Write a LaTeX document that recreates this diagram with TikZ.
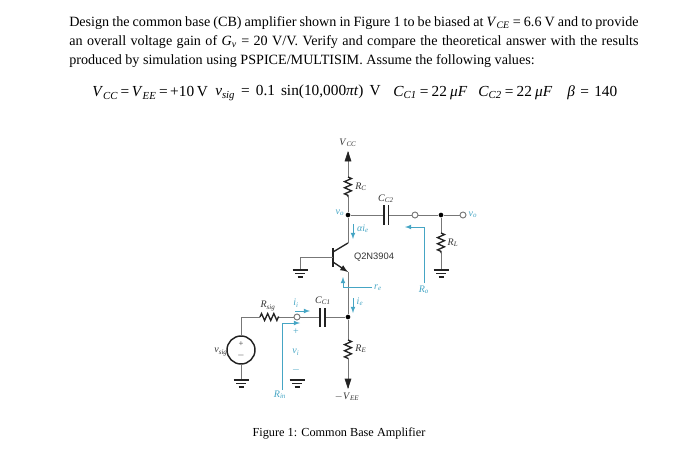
\documentclass[tikz,border=0pt]{standalone}
\usepackage{amsmath}
\usepackage{fontspec}
\setmainfont{Liberation Serif}
\setsansfont{Liberation Sans}
\usepackage{tikz}
\usetikzlibrary{positioning,arrows,decorations.pathmorphing}

\definecolor{wiregray}{HTML}{777777}
\definecolor{partblack}{HTML}{222222}
\definecolor{signalblue}{HTML}{45A5C4}

\newcommand{\mi}[1]{\textit{#1}}
\newcommand{\qty}[2]{\mi{#1}$_{\mi{#2}}$}

\tikzset{
    wire/.style={draw=wiregray, line width=0.7pt},
    resistor/.style={draw=partblack, line width=1pt, decorate, decoration={zigzag, segment length=4.6pt, amplitude=2.6pt}},
    plate/.style={draw=partblack, line width=1pt},
    sense/.style={draw=signalblue, line width=0.6pt, -latex},
    tag/.style={font=\fontsize{7.5}{8}\selectfont, text=black!80, inner sep=0},
    bluetag/.style={font=\fontsize{7.5}{8}\selectfont, text=signalblue, inner sep=0},
    junction/.style={circle, fill=black, inner sep=0, minimum size=3.5pt},
    terminal/.style={circle, draw=wiregray, fill=white, line width=0.7pt, inner sep=0, minimum size=4.5pt},
    taskline/.style={anchor=west, inner sep=0, font=\fontsize{10.6}{13}\selectfont},
    eqn/.style={anchor=west, inner sep=0, font=\fontsize{11.5}{13}\selectfont},
    earth/.pic={
        \draw[partblack, line width=0.9pt] (-7.5,0) -- (7.5,0) (-5,3.5) -- (5,3.5) (-2.5,7) -- (2.5,7);
    }
}

\begin{document}
\begin{tikzpicture}[x=0.75pt, y=-0.75pt]
        \useasboundingbox (0,0) rectangle (700,450);

        % problem text
        \node[taskline] (taskone) at (69,23) {\makebox[427pt][s]{Design the common base (CB) amplifier shown in Figure 1 to be biased at \qty{V}{CE} = 6.6 V and to provide}};
        \node[taskline] (tasktwo) at (69,42) {\makebox[427pt][s]{an overall voltage gain of \qty{G}{v} = 20 V/V. Verify and compare the theoretical answer with the results}};
        \node[taskline] (taskthree) at (69,61) {produced by simulation using PSPICE/MULTISIM. Assume the following values:};
        \node[eqn] (eqvcc) at (92,93) {\makebox[86.5pt][s]{\qty{V}{CC} = \qty{V}{EE} = +10 V}};
        \node[eqn] (eqsig) at (215,93) {\makebox[124pt][s]{\qty{v}{sig} = 0.1 sin(10,000\mi{πt}) V}};
        \node[eqn] (eqcone) at (393,93) {\makebox[55.5pt][s]{\qty{C}{C1} = 22 \mi{μF}}};
        \node[eqn] (eqctwo) at (478,93) {\makebox[55.5pt][s]{\qty{C}{C2} = 22 \mi{μF}}};
        \node[eqn] (eqbeta) at (567,93) {\makebox[37.5pt][s]{\mi{β} = 140}};

        % circuit points
        \coordinate (vcc) at (348,152);
        \coordinate (rctop) at (348,177);
        \coordinate (rcbot) at (348,197);
        \node[junction] (outnode) at (348,215) {};
        \coordinate (ctwoleft) at (384,215);
        \coordinate (ctworight) at (388.5,215);
        \node[terminal] (ctwoterm) at (415,215) {};
        \node[junction] (loadnode) at (441,215) {};
        \node[terminal] (outterm) at (463,215) {};
        \coordinate (rltop) at (441,233);
        \coordinate (rlbot) at (441,253);
        \coordinate (rlgnd) at (441,270);

        \coordinate (collector) at (348,243);
        \coordinate (colbar) at (333,252);
        \coordinate (barup) at (333,248);
        \coordinate (bardown) at (333,267);
        \coordinate (basebar) at (333,257);
        \coordinate (basecorner) at (300,257);
        \coordinate (basegnd) at (300,270);
        \coordinate (embar) at (333,262);
        \coordinate (emitter) at (348,272);

        \node[junction] (emnode) at (348,317) {};
        \coordinate (retop) at (348,340);
        \coordinate (rebot) at (348,359);
        \coordinate (vee) at (348,388);
        \coordinate (conelft) at (320,317);
        \coordinate (conergt) at (325,317);
        \node[terminal] (inTerm) at (297,317) {};
        \coordinate (rsigrgt) at (279,317);
        \coordinate (rsiglft) at (260,317);
        \coordinate (srccorner) at (241,317);
        \node[circle, draw=partblack, line width=1.1pt, minimum size=21pt, inner sep=0] (vsrc) at (241,350) {};
        \coordinate (srcgnd) at (241,380);
        \coordinate (ingnd) at (297,380);

        % wires
        \draw[wire] (rctop) -- (vcc);
        \draw[draw=partblack, fill=partblack] (345,161) -- (348,152) -- (351,161) -- cycle;
        \draw[wire] (rcbot) -- (outnode);
        \draw[wire] (outnode) -- (ctwoleft);
        \draw[wire] (ctworight) -- (ctwoterm);
        \draw[wire] (ctwoterm) -- (loadnode);
        \draw[wire] (loadnode) -- (outterm);
        \draw[wire] (loadnode) -- (rltop);
        \draw[wire] (rlbot) -- (rlgnd);
        \draw[wire] (outnode) -- (collector);
        \draw[plate] (collector) -- (colbar);
        \draw[plate] (barup) -- (bardown);
        \draw[wire] (basebar) -- (basecorner) -- (basegnd);
        \draw[plate, -latex] (embar) -- (emitter);
        \draw[wire] (emitter) -- (emnode);
        \draw[wire] (emnode) -- (conergt);
        \draw[wire] (conelft) -- (inTerm);
        \draw[wire] (inTerm) -- (rsigrgt);
        \draw[wire] (rsiglft) -- (srccorner) -- (vsrc);
        \draw[wire] (vsrc) -- (srcgnd);
        \draw[wire] (emnode) -- (retop);
        \draw[wire] (rebot) -- (vee);
        \draw[draw=partblack, fill=partblack] (345,379) -- (348,388) -- (351,379) -- cycle;

        % resistors and capacitors
        \draw[resistor] (rctop) -- (rcbot);
        \draw[resistor] (rltop) -- (rlbot);
        \draw[resistor] (retop) -- (rebot);
        \draw[resistor] (rsiglft) -- (rsigrgt);
        \draw[plate] (384,205) -- (384,225) (388.5,205) -- (388.5,225);
        \draw[plate] (320,308) -- (320,327) (325,308) -- (325,327);

        % grounds
        \pic at (rlgnd) {earth};
        \pic at (basegnd) {earth};
        \pic at (srcgnd) {earth};
        \pic at (ingnd) {earth};

        % source polarity
        \node[tag, font=\fontsize{6.5}{6.5}\selectfont] (srcplus) at (241,344) {+};
        \node[tag, font=\fontsize{6.5}{6.5}\selectfont] (srcminus) at (241,355) {$-$};

        % blue current and resistance markers
        \coordinate (alphatop) at (353,224);
        \coordinate (alphabot) at (353,239);
        \draw[sense] (alphatop) -- (alphabot);
        \coordinate (iefirst) at (353,298);
        \coordinate (ielast) at (353,313);
        \draw[sense] (iefirst) -- (ielast);
        \coordinate (iiFirst) at (295,311);
        \coordinate (iiLast) at (310,311);
        \draw[sense] (iiFirst) -- (iiLast);
        \coordinate (rostart) at (424,283);
        \coordinate (rocorner) at (424,227);
        \coordinate (roend) at (405,227);
        \draw[sense] (rostart) -- (rocorner) -- (roend);
        \coordinate (restart) at (372,287);
        \coordinate (recorner) at (343,287);
        \coordinate (reend) at (343,277);
        \draw[sense] (restart) -- (recorner) -- (reend);
        \coordinate (rinstart) at (282,390);
        \coordinate (rincorner) at (282,323);
        \coordinate (rinend) at (300,323);
        \draw[sense] (rinstart) -- (rincorner) -- (rinend);

        % labels
        \node[tag] (vcclabel) at (348,143) {\qty{V}{CC}};
        \node[tag] (rclabel) at (361,187) {\qty{R}{C}};
        \node[tag] (cctwolabel) at (386,199) {\qty{C}{C2}};
        \node[tag] (rllabel) at (453,243) {\qty{R}{L}};
        \node[tag, font=\sffamily\fontsize{7}{8}\selectfont] (qlabel) at (374,257) {Q2N3904};
        \node[tag] (relabel) at (361,349) {\qty{R}{E}};
        \node[tag] (veelabel) at (347,397) {$-$\qty{V}{EE}};
        \node[tag] (cconelabel) at (323,301) {\qty{C}{C1}};
        \node[tag] (rsiglabel) at (268,306) {\qty{R}{sig}};
        \node[tag] (vsiglabel) at (221,352) {\qty{v}{sig}};
        \node[bluetag] (votag) at (340,213) {\qty{v}{o}};
        \node[bluetag] (vout) at (473,215) {\qty{v}{o}};
        \node[bluetag] (alphatag) at (363,229) {\mi{αi}$_{\mi{e}}$};
        \node[bluetag] (ietag) at (360,302) {\qty{i}{e}};
        \node[bluetag] (iitag) at (296,303) {\qty{i}{i}};
        \node[bluetag] (retag) at (378,288) {\qty{r}{e}};
        \node[bluetag] (rotag) at (424,290) {\qty{R}{o}};
        \node[bluetag] (rintag) at (280,395) {\qty{R}{in}};
        \node[bluetag] (plustag) at (296,332) {+};
        \node[bluetag] (vitag) at (296,352) {\qty{v}{i}};
        \node[bluetag] (minustag) at (296,370) {$-$};

        \node[inner sep=0, font=\fontsize{9.2}{11}\selectfont] (caption) at (339,433) {Figure 1: Common Base Amplifier};
\end{tikzpicture}
\end{document}
